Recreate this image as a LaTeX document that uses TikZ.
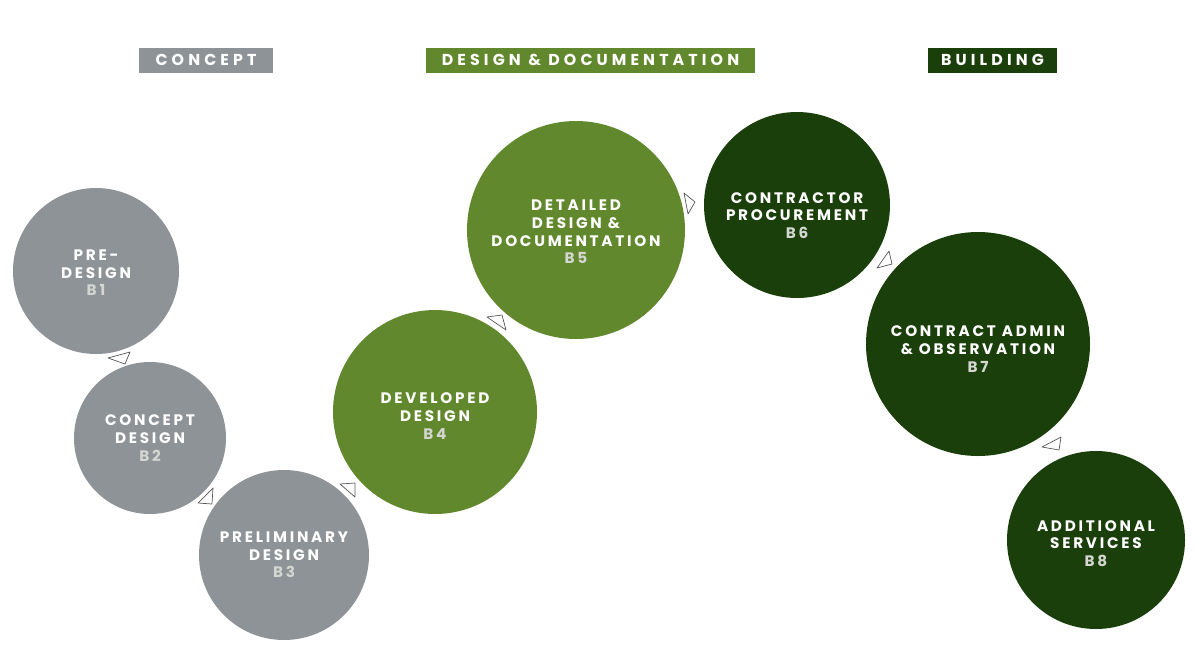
\documentclass[tikz,border=0pt]{standalone}
\usepackage{fontspec}
\setmainfont{Poppins}[LetterSpace=18]
\usetikzlibrary{positioning}
\definecolor{concept}{HTML}{8E9397}
\definecolor{design}{HTML}{62882D}
\definecolor{build}{HTML}{1B3F0B}
\definecolor{code}{HTML}{D4D6D2}
\definecolor{tri}{HTML}{55585A}

\begin{document}
\begin{tikzpicture}[x=0.03cm,y=-0.03cm,
  stage/.style={circle, fill=#1, inner sep=0pt},
  stagetext/.style={text=white, align=center, inner sep=0pt,
    font=\bfseries\fontsize{13}{15}\selectfont},
  head/.style={fill=#1, text=white, inner sep=0pt, minimum height=0.75cm,
    font=\bfseries\fontsize{13.5}{15}\selectfont\addfontfeatures{LetterSpace=26}},
  tri/.style={draw=tri, line width=0.6pt, line join=round}]
\useasboundingbox (0,0) rectangle (1200,666);

% phase headers
\node[head=concept, minimum width=134*0.03cm] (concept) at (206,60) {CONCEPT};
\node[head=design, minimum width=329*0.03cm] (docs) at (590.5,60) {DESIGN \& DOCUMENTATION};
\node[head=build, minimum width=129*0.03cm] (building) at (992.5,60) {BUILDING};

% stages
\foreach \n/\x/\y/\r/\c/\d/\t in {
  b1/96/271/83/concept/2/{PRE-\\DESIGN\\\textcolor{code}{B1}},
  b2/150/438/76/concept/0/{CONCEPT\\DESIGN\\\textcolor{code}{B2}},
  b3/284/555/85/concept/0/{PRELIMINARY\\DESIGN\\\textcolor{code}{B3}},
  b4/435/412/102/design/4/{DEVELOPED\\DESIGN\\\textcolor{code}{B4}},
  b5/576/230/109/design/2/{DETAILED\\DESIGN \&\\DOCUMENTATION\\\textcolor{code}{B5}},
  b6/797/205/93/build/10.5/{CONTRACTOR\\PROCUREMENT\\\textcolor{code}{B6}},
  b7/978/344/112/build/5/{CONTRACT ADMIN\\\& OBSERVATION\\\textcolor{code}{B7}},
  b8/1096/540/89/build/3.5/{ADDITIONAL\\SERVICES\\\textcolor{code}{B8}}}
{
  \node[stage=\c, minimum size=2*\r*0.03cm] (\n) at (\x,\y) {};
  \node[stagetext] (\n text) at ([yshift=-\d*0.03cm]\n.center) {\t};
}

% small triangles between the stages
\draw[tri] (108,358) -- (130,352) -- (125,364) -- cycle;
\draw[tri] (198,503) -- (213,488) -- (212,504) -- cycle;
\draw[tri] (340,484) -- (355,483) -- (355,497) -- cycle;
\draw[tri] (487,317) -- (502,315) -- (506,330) -- cycle;
\draw[tri] (684,193) -- (695,202) -- (688,214) -- cycle;
\draw[tri] (889,251) -- (892,264) -- (877,268) -- cycle;
\draw[tri] (1042,447) -- (1061,437) -- (1059,450) -- cycle;
\end{tikzpicture}
\end{document}
